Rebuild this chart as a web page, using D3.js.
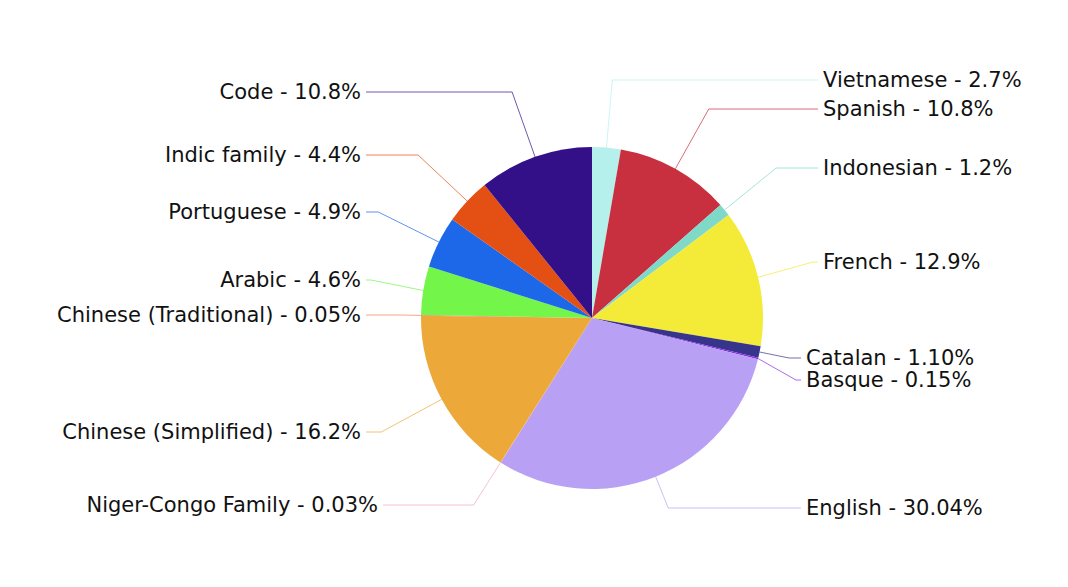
<!DOCTYPE html>
<html><head><meta charset="utf-8">
<script src="https://cdn.jsdelivr.net/npm/d3@7"></script>
<style>body{margin:0;background:#fff}</style></head>
<body><svg id="c" width="1068" height="587"></svg>
<script>
const categories = ["Vietnamese","Spanish","Indonesian","French","Catalan","Basque","English","Niger-Congo Family","Chinese (Simplified)","Chinese (Traditional)","Arabic","Portuguese","Indic family","Code"];
const values = [2.7,10.8,1.2,12.9,1.10,0.15,30.04,0.03,16.2,0.05,4.6,4.9,4.4,10.8];
const valueLabels = ["2.7%","10.8%","1.2%","12.9%","1.10%","0.15%","30.04%","0.03%","16.2%","0.05%","4.6%","4.9%","4.4%","10.8%"];
const colors = ["#b6f0ec","#c8303f","#7fd9c9","#f4ea38","#37348c","#8a2be2","#b8a1f4","#f4a6b8","#eca93a","#f08060","#74f54a","#1c68e8","#e44f14","#341088"];
// label layout: [x, y, side]
const labelPos = [[823,80,1],[823,109,1],[823,168,1],[823,262,1],[806,358,1],[806,380,1],[806,508,1],[378,505,-1],[361,432,-1],[361,315,-1],[361,280,-1],[361,212,-1],[361,155,-1],[361,92,-1]];

const svg = d3.select("#c");
const cx=592, cy=318, R=171;
const g = svg.append("g").attr("transform",`translate(${cx},${cy})`);
const pie = d3.pie().sort(null).value(d=>d)(values);
const arc = d3.arc().innerRadius(0).outerRadius(R);
g.selectAll("path.s").data(pie).enter().append("path")
  .attr("d",arc).attr("fill",(d,i)=>colors[i]);
pie.forEach((d,i)=>{
  const a=(d.startAngle+d.endAngle)/2, sx=Math.sin(a), sy=-Math.cos(a);
  const [lx,ly,side]=labelPos[i];
  const ey=ly-cy;
  let t = Math.abs(sy)>0.05 ? ey/sy : R*1.1;
  if (t<R) t=R;
  const endX = lx-cx - side*5;
  let ex = sx*t;
  if (side>0 && ex>endX-5) ex=endX-5;
  if (side<0 && ex<endX+5) ex=endX+5;
  g.append("polyline").attr("points",`${sx*R},${sy*R} ${ex},${ey} ${endX},${ey}`)
    .attr("fill","none").attr("stroke",colors[i]).attr("stroke-width",1).attr("stroke-opacity",0.7);
  svg.append("text").attr("x",lx).attr("y",ly).attr("dy","0.35em")
    .attr("text-anchor",side>0?"start":"end")
    .attr("font-family","DejaVu Sans, sans-serif").attr("font-size",21).attr("fill","#111")
    .text(categories[i]+" - "+valueLabels[i]);
});
</script></body></html>
